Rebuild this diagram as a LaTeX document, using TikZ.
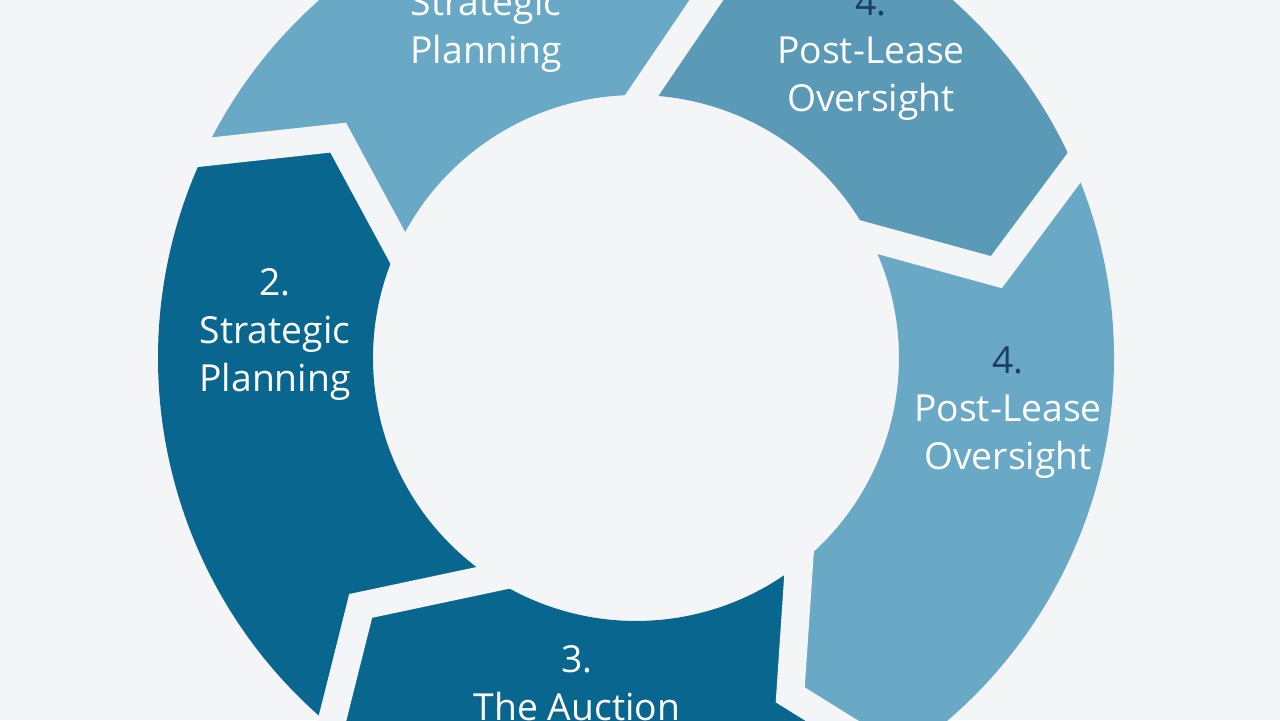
\documentclass[tikz,border=0pt]{standalone}
\usepackage{fontspec}
\setmainfont{Open Sans}
\usetikzlibrary{calc}

\definecolor{pagebg}{HTML}{F4F5F6}
\definecolor{ringlight}{HTML}{69A9C5}
\definecolor{ringmid}{HTML}{5A9AB6}
\definecolor{ringdark}{HTML}{08668F}
\definecolor{stepnavy}{HTML}{1B3D66}

\begin{document}
\begin{tikzpicture}[
        every node/.style={
            align=center, text=white,
            font=\fontsize{21.2}{27.3}\selectfont,
            inner sep=0pt
        },
        gap/.style={draw=pagebg, line width=0.56cm, line join=miter}
      ]
        \def\rin{5.26}
        \def\rout{9.56}
        \def\rmid{7.41}
        \useasboundingbox (-12.72,-7.24) rectangle (12.88,7.16);
        \clip (-12.72,-7.24) rectangle (12.88,7.16);
        \fill[pagebg] (-12.72,-7.24) rectangle (12.88,7.16);

        % boundary points: outer, vertex, inner
        \coordinate (b1o) at (23.5:\rout);  \coordinate (b1v) at (13.4:\rmid);  \coordinate (b1i) at (27.3:\rin);
        \coordinate (b2o) at (87:\rout);    \coordinate (b2v) at (78.5:\rmid);  \coordinate (b2i) at (88.7:\rin);
        \coordinate (b3o) at (154.5:\rout); \coordinate (b3v) at (143.5:\rmid); \coordinate (b3i) at (155.1:\rin);
        \coordinate (b4o) at (230.3:\rout); \coordinate (b4v) at (222:\rmid);   \coordinate (b4i) at (236.8:\rin);
        \coordinate (b5o) at (302.8:\rout); \coordinate (b5v) at (294.6:\rmid); \coordinate (b5i) at (308.3:\rin);

        % segments
        \fill[ringlight] (b5o) arc[start angle=302.8, end angle=383.5, radius=\rout]
          -- (b1v) -- (b1i) arc[start angle=387.3, end angle=308.3, radius=\rin] -- (b5v) -- cycle;
        \fill[ringmid] (b1o) arc[start angle=23.5, end angle=87, radius=\rout]
          -- (b2v) -- (b2i) arc[start angle=88.7, end angle=27.3, radius=\rin] -- (b1v) -- cycle;
        \fill[ringlight] (b2o) arc[start angle=87, end angle=154.5, radius=\rout]
          -- (b3v) -- (b3i) arc[start angle=155.1, end angle=88.7, radius=\rin] -- (b2v) -- cycle;
        \fill[ringdark] (b3o) arc[start angle=154.5, end angle=230.3, radius=\rout]
          -- (b4v) -- (b4i) arc[start angle=236.8, end angle=155.1, radius=\rin] -- (b3v) -- cycle;
        \fill[ringdark] (b4o) arc[start angle=230.3, end angle=302.8, radius=\rout]
          -- (b5v) -- (b5i) arc[start angle=308.3, end angle=236.8, radius=\rin] -- (b4v) -- cycle;

        % white gaps
        \draw[gap] ($(b1v)!1.5!(b1o)$) -- (b1v) -- ($(b1v)!1.5!(b1i)$);
        \draw[gap] ($(b2v)!1.5!(b2o)$) -- (b2v) -- ($(b2v)!1.5!(b2i)$);
        \draw[gap] ($(b3v)!1.5!(b3o)$) -- (b3v) -- ($(b3v)!1.5!(b3i)$);
        \draw[gap] ($(b4v)!1.5!(b4o)$) -- (b4v) -- ($(b4v)!1.5!(b4i)$);
        \draw[gap] ($(b5v)!1.5!(b5o)$) -- (b5v) -- ($(b5v)!1.5!(b5i)$);

        % labels
        \node (plan_top) at (-3.0,6.55) {Strategic\\Planning};
        \node (post_top) at (4.70,6.06) {{\color{stepnavy}4.}\\Post-Lease\\Oversight};
        \node (plan) at (-7.22,0.47) {2.\\Strategic\\Planning};
        \node (auction) at (-1.18,-6.51) {3.\\The Auction};
        \node (post) at (7.44,-1.10) {{\color{stepnavy}4.}\\Post-Lease\\Oversight};
      \end{tikzpicture}
\end{document}
